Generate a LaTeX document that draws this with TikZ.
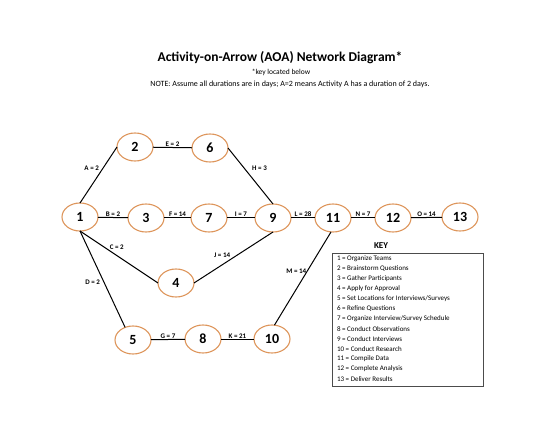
\documentclass[tikz,border=0pt]{standalone}
\usepackage{fontspec}
\setmainfont{Carlito}
\usepackage{tikz}
\usetikzlibrary{positioning,calc,shapes.geometric}
\definecolor{myorange}{RGB}{222,150,92}
\tikzset{
  aoapic/.style={
    x=1pt,y=-1pt
    ,inner sep=0pt
    ,outer sep=0pt
  }
  ,event/.style={ellipse
    ,draw=myorange
    ,line width=1.1pt
    ,fill=white
    ,minimum width=36pt
    ,minimum height=28pt
    ,font=\fontsize{14}{16}\selectfont\bfseries
  }
  ,activity/.style={draw=black,line width=1pt}
  ,actlabel/.style={inner sep=1pt,font=\fontsize{7}{8}\selectfont\bfseries}
  ,keyentry/.style={anchor=west,font=\fontsize{7}{8}\selectfont}
  ,keybox/.style={draw=black!70,line width=.6pt}
}
\begin{document}
\begin{tikzpicture}[aoapic]
    \useasboundingbox (0,0) rectangle (560,433);
    % title
    \node[font=\fontsize{13.5}{15}\selectfont\bfseries] (title) at (280,58)
      {Activity-on-Arrow (AOA) Network Diagram*};
    \node[font=\fontsize{7.5}{8}\selectfont] (keynote) at (281,72) {*key located below};
    \node[font=\fontsize{8}{9}\selectfont] (note) at (290,84)
      {NOTE: Assume all durations are in days; A=2 means Activity A has a duration of 2 days.};

    % events
    \node[event] (n1) at (80,217) {1};
    \node[event] (n2) at (135,147) {2};
    \node[event] (n3) at (146,218) {3};
    \node[event] (n4) at (176,283) {4};
    \node[event] (n5) at (133,340) {5};
    \node[event] (n6) at (210,148) {6};
    \node[event] (n7) at (209,218) {7};
    \node[event] (n8) at (203,339) {8};
    \node[event] (n9) at (273,218) {9};
    \node[event] (n10) at (272,339) {10};
    \node[event] (n11) at (333,218) {11};
    \node[event] (n12) at (393,218) {12};
    \node[event] (n13) at (460,217) {13};

    % activities
    \draw[activity] (n1.north) -- node[actlabel,left=3pt,pos=.62] (lA) {A = 2} (n2.west);
    \draw[activity] (n1) -- node[actlabel,above] (lB) {B = 2} (n3);
    \draw[activity] (n1.south) -- node[actlabel,above right,pos=.37] (lC) {C = 2} (n4.west);
    \draw[activity] (n1.south) -- node[actlabel,left=3pt,pos=.53] (lD) {D = 2} (n5.122);
    \draw[activity] (n2) -- node[actlabel,above] (lE) {E = 2} (n6);
    \draw[activity] (n3) -- node[actlabel,above] (lF) {F = 14} (n7);
    \draw[activity] (n5) -- node[actlabel,above] (lG) {G = 7} (n8);
    \draw[activity] (n6.east) -- node[actlabel,right=7pt,pos=.36] (lH) {H = 3} (n9.north);
    \draw[activity] (n7) -- node[actlabel,above] (lI) {I = 7} (n9);
    \draw[activity] (n4.east) -- node[actlabel,above left,pos=.47] (lJ) {J = 14} (n9.south);
    \draw[activity] (n8) -- node[actlabel,above] (lK) {K = 21} (n10);
    \draw[activity] (n9) -- node[actlabel,above] (lL) {L = 28} (n11);
    \draw[activity] (n10.80) -- node[actlabel,left,pos=.58] (lM) {M = 14} (n11.262);
    \draw[activity] (n11) -- node[actlabel,above] (lN) {N = 7} (n12);
    \draw[activity] (n12) -- node[actlabel,above] (lO) {O = 14} (n13);

    % key
    \node[font=\fontsize{9}{10}\selectfont\bfseries] (keytitle) at (381,246) {KEY};
    \draw[keybox] (332,253) rectangle (483,386);
    \foreach \txt [count=\i] in {Organize Teams,Brainstorm Questions,Gather Participants
      ,Apply for Approval,Set Locations for Interviews/Surveys,Refine Questions
      ,Organize Interview/Survey Schedule,Conduct Observations,Conduct Interviews
      ,Conduct Research,Compile Data,Complete Analysis,Deliver Results}
      \node[keyentry] (key\i) at (337,249+10*\i) {\i{} = \txt};
  \end{tikzpicture}
\end{document}
